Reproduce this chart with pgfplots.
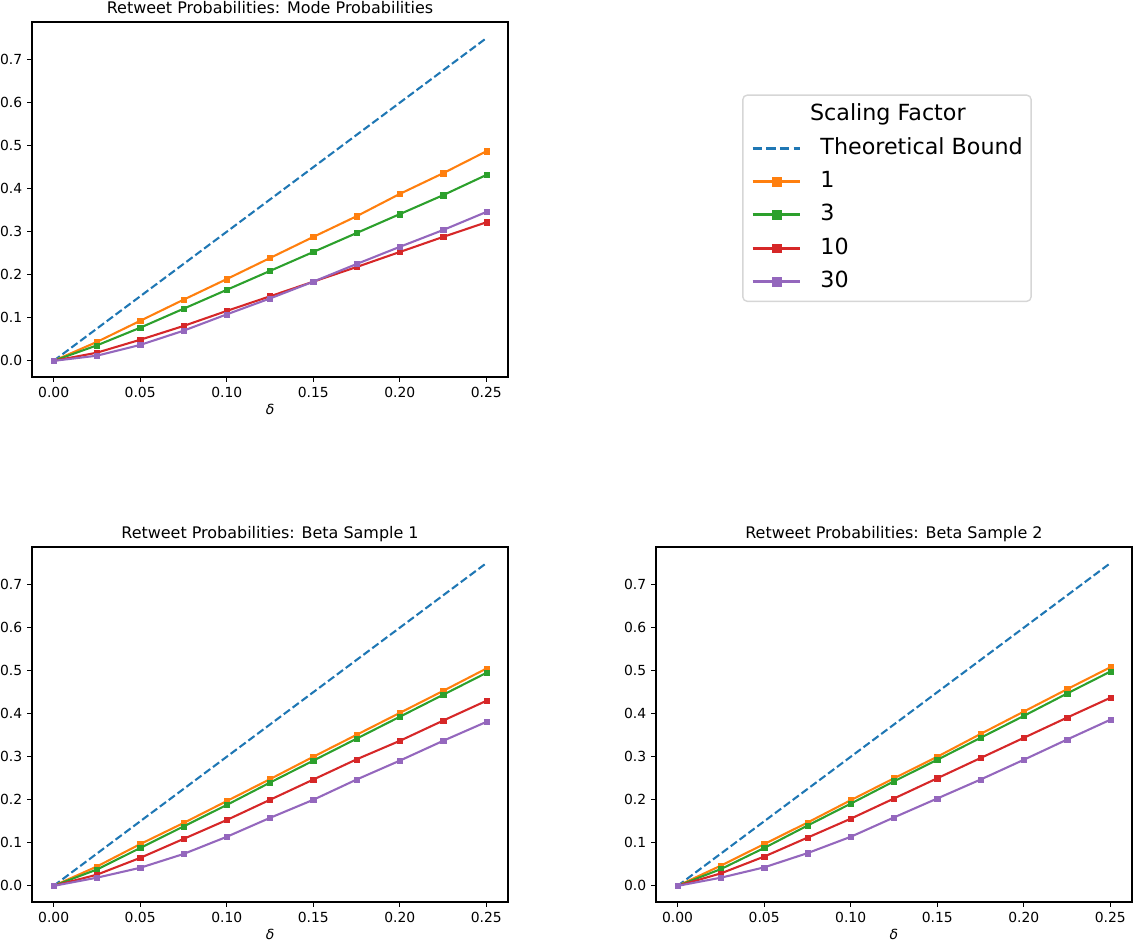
\documentclass[border=0pt]{standalone}
\usepackage{fontspec}
\setmainfont{DejaVu Sans}
\usepackage{pgfplots}
\pgfplotsset{compat=1.18}

\definecolor{c0}{HTML}{1F77B4}
\definecolor{c1}{HTML}{FF7F0E}
\definecolor{c2}{HTML}{2CA02C}
\definecolor{c3}{HTML}{D62728}
\definecolor{c4}{HTML}{9467BD}

\pgfplotsset{
  panel/.style={
    scale only axis, width=342.72bp, height=255.6bp, anchor=south west,
    xmin=-0.0125, xmax=0.2625, ymin=-0.0375, ymax=0.7875,
    xtick={0,0.05,0.1,0.15,0.2,0.25},
    ytick={0,0.1,0.2,0.3,0.4,0.5,0.6,0.7},
    tick pos=left, tick align=outside, major tick length=3.5bp,
    every tick/.style={black, line width=0.8bp},
    axis line style={line width=0.8bp},
    tick label style={font=\fontsize{10bp}{12bp}\selectfont},
    /pgf/number format/assume math mode=true,
    xticklabel style={/pgf/number format/.cd, fixed, fixed zerofill, precision=2},
    yticklabel style={/pgf/number format/.cd, fixed, fixed zerofill, precision=1},
    every axis title shift=0pt,
    title style={font=\fontsize{11.5bp}{14bp}\selectfont, at={(0.5,1)}, anchor=base, yshift=5.8bp},
    xlabel={\itshape δ},
    xlabel style={font=\fontsize{10bp}{12bp}\selectfont, at={(axis description cs:0.5,0)},
      anchor=north, inner sep=0pt, yshift=-19.4bp},
  },
  ser/.style={line width=1.5bp, mark=square*, mark size=1.9bp, mark options={solid, line width=0.3bp}},
  bound/.style={c0, line width=1.5bp, dash pattern=on 5.55bp off 2.4bp},
}

\begin{document}
\begin{tikzpicture}
\path[use as bounding box] (0,0) rectangle (817.2bp,678.24bp);

% top left
\begin{axis}[panel, at={(23.04bp,406.8bp)}, title={Retweet Probabilities: Mode Probabilities}]
\addplot[bound] coordinates {(0,0) (0.025,0.075) (0.05,0.15) (0.075,0.225) (0.1,0.3) (0.125,0.375) (0.15,0.45) (0.175,0.525) (0.2,0.6) (0.225,0.675) (0.25,0.75)};
\addplot[ser, c1] coordinates {(0,0) (0.025,0.044) (0.05,0.093) (0.075,0.142) (0.1,0.190) (0.125,0.239) (0.15,0.288) (0.175,0.336) (0.2,0.388) (0.225,0.436) (0.25,0.487)};
\addplot[ser, c2] coordinates {(0,0) (0.025,0.036) (0.05,0.077) (0.075,0.121) (0.1,0.165) (0.125,0.209) (0.15,0.253) (0.175,0.297) (0.2,0.341) (0.225,0.385) (0.25,0.432)};
\addplot[ser, c3] coordinates {(0,0) (0.025,0.019) (0.05,0.049) (0.075,0.081) (0.1,0.116) (0.125,0.150) (0.15,0.184) (0.175,0.218) (0.2,0.253) (0.225,0.288) (0.25,0.322)};
\addplot[ser, c4] coordinates {(0,0) (0.025,0.012) (0.05,0.037) (0.075,0.070) (0.1,0.108) (0.125,0.145) (0.15,0.184) (0.175,0.225) (0.2,0.265) (0.225,0.304) (0.25,0.346)};
\end{axis}

% bottom left
\begin{axis}[panel, at={(23.04bp,28.8bp)}, title={Retweet Probabilities: Beta Sample 1}]
\addplot[bound] coordinates {(0,0) (0.025,0.075) (0.05,0.15) (0.075,0.225) (0.1,0.3) (0.125,0.375) (0.15,0.45) (0.175,0.525) (0.2,0.6) (0.225,0.675) (0.25,0.75)};
\addplot[ser, c1] coordinates {(0,0) (0.025,0.045) (0.05,0.097) (0.075,0.146) (0.1,0.197) (0.125,0.248) (0.15,0.300) (0.175,0.351) (0.2,0.402) (0.225,0.453) (0.25,0.505)};
\addplot[ser, c2] coordinates {(0,0) (0.025,0.038) (0.05,0.088) (0.075,0.138) (0.1,0.188) (0.125,0.240) (0.15,0.291) (0.175,0.342) (0.2,0.393) (0.225,0.444) (0.25,0.495)};
\addplot[ser, c3] coordinates {(0,0) (0.025,0.026) (0.05,0.065) (0.075,0.109) (0.1,0.153) (0.125,0.200) (0.15,0.247) (0.175,0.294) (0.2,0.337) (0.225,0.384) (0.25,0.430)};
\addplot[ser, c4] coordinates {(0,0) (0.025,0.019) (0.05,0.042) (0.075,0.074) (0.1,0.114) (0.125,0.158) (0.15,0.200) (0.175,0.247) (0.2,0.291) (0.225,0.337) (0.25,0.381)};
\end{axis}

% bottom right
\begin{axis}[panel, at={(472.3bp,28.8bp)}, title={Retweet Probabilities: Beta Sample 2}]
\addplot[bound] coordinates {(0,0) (0.025,0.075) (0.05,0.15) (0.075,0.225) (0.1,0.3) (0.125,0.375) (0.15,0.45) (0.175,0.525) (0.2,0.6) (0.225,0.675) (0.25,0.75)};
\addplot[ser, c1] coordinates {(0,0) (0.025,0.047) (0.05,0.097) (0.075,0.147) (0.1,0.199) (0.125,0.250) (0.15,0.300) (0.175,0.353) (0.2,0.405) (0.225,0.457) (0.25,0.508)};
\addplot[ser, c2] coordinates {(0,0) (0.025,0.039) (0.05,0.088) (0.075,0.140) (0.1,0.191) (0.125,0.243) (0.15,0.293) (0.175,0.344) (0.2,0.395) (0.225,0.447) (0.25,0.498)};
\addplot[ser, c3] coordinates {(0,0) (0.025,0.029) (0.05,0.068) (0.075,0.112) (0.1,0.156) (0.125,0.203) (0.15,0.250) (0.175,0.297) (0.2,0.344) (0.225,0.391) (0.25,0.437)};
\addplot[ser, c4] coordinates {(0,0) (0.025,0.019) (0.05,0.043) (0.075,0.076) (0.1,0.114) (0.125,0.159) (0.15,0.203) (0.175,0.247) (0.2,0.293) (0.225,0.340) (0.25,0.386)};
\end{axis}

% legend panel (top right, axes hidden)
\begin{axis}[hide axis, scale only axis, width=342.72bp, height=255.6bp, anchor=south west,
  at={(472.3bp,406.8bp)}, xmin=0, xmax=1, ymin=0, ymax=1,
  legend cell align=left,
  legend image code/.code={\draw[mark repeat=2,mark phase=2,#1] plot coordinates {(0bp,0bp) (17bp,0bp) (34bp,0bp)};},
  legend style={at={(rel axis cs:0.181,0.796)}, anchor=north west,
    draw=black!16, line width=1bp, rounded corners=3.2bp, fill=white,
    font=\fontsize{16bp}{19bp}\selectfont,
    inner xsep=6bp, inner ysep=6.5bp, row sep=8.5bp, column sep=13.7bp,
    nodes={inner sep=0pt, text height=12bp, text depth=3.5bp}}]
\addlegendimage{empty legend}
\addlegendentry{\hspace{-7.5bp}Scaling Factor}
\addlegendimage{c0, line width=2.2bp, dash pattern=on 6.7bp off 3.1bp}
\addlegendentry{Theoretical Bound}
\addlegendimage{c1, line width=2.2bp, mark=square*, mark size=3.2bp, mark options={solid, line width=0.3bp}}
\addlegendentry{1}
\addlegendimage{c2, line width=2.2bp, mark=square*, mark size=3.2bp, mark options={solid, line width=0.3bp}}
\addlegendentry{3}
\addlegendimage{c3, line width=2.2bp, mark=square*, mark size=3.2bp, mark options={solid, line width=0.3bp}}
\addlegendentry{10}
\addlegendimage{c4, line width=2.2bp, mark=square*, mark size=3.2bp, mark options={solid, line width=0.3bp}}
\addlegendentry{30}
\end{axis}
\end{tikzpicture}
\end{document}
